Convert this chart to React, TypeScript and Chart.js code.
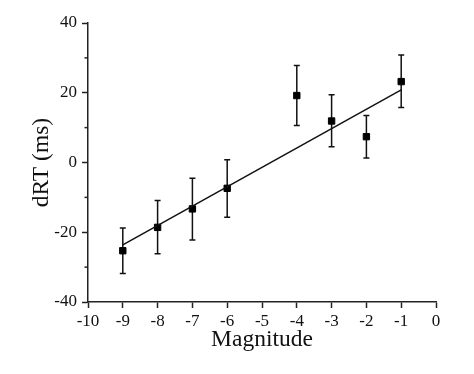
import React, { useEffect, useRef } from "react";
import { Chart, registerables } from "chart.js";

Chart.register(...registerables);

const magnitudes = [-9, -8, -7, -6, -4, -3, -2, -1];
const dRT = [-25.3, -18.6, -13.3, -7.4, 19.2, 11.9, 7.4, 23.2];
const errUpper = [-18.8, -10.9, -4.5, 0.8, 27.8, 19.4, 13.5, 30.8];
const errLower = [-31.8, -26.2, -22.2, -15.7, 10.6, 4.5, 1.3, 15.8];
const fitX = [-9, -1];
const fitY = [-23.6, 20.8];
const yMinorTicks = [-30, -10, 10, 30];

const FONT = "'Liberation Serif', 'Times New Roman', serif";

const errorBarPlugin = {
  id: "errorBars",
  beforeDatasetsDraw(chart: any) {
    const { ctx, scales } = chart;
    const xs = scales.x;
    const ys = scales.y;
    ctx.save();
    ctx.strokeStyle = "#111";
    ctx.lineWidth = 1.5;
    magnitudes.forEach((m, i) => {
      const px = xs.getPixelForValue(m);
      const top = ys.getPixelForValue(errUpper[i]);
      const bot = ys.getPixelForValue(errLower[i]);
      ctx.beginPath();
      ctx.moveTo(px, top);
      ctx.lineTo(px, bot);
      ctx.moveTo(px - 3, top);
      ctx.lineTo(px + 3, top);
      ctx.moveTo(px - 3, bot);
      ctx.lineTo(px + 3, bot);
      ctx.stroke();
    });
    ctx.restore();
  },
  afterDraw(chart: any) {
    const { ctx, scales } = chart;
    const ys = scales.y;
    ctx.save();
    ctx.strokeStyle = "#222";
    ctx.lineWidth = 1.5;
    yMinorTicks.forEach((v) => {
      const py = ys.getPixelForValue(v);
      ctx.beginPath();
      ctx.moveTo(ys.right - 3.5, py);
      ctx.lineTo(ys.right, py);
      ctx.stroke();
    });
    ctx.restore();
  },
};

export default function App() {
  const ref = useRef<HTMLCanvasElement>(null);
  useEffect(() => {
    if (!ref.current) return;
    const chart = new Chart(ref.current, {
      type: "scatter",
      data: {
        datasets: [
          {
            type: "line",
            data: fitX.map((x, i) => ({ x, y: fitY[i] })),
            borderColor: "#111",
            borderWidth: 1.5,
            pointRadius: 0,
            fill: false,
          } as any,
          {
            data: magnitudes.map((x, i) => ({ x, y: dRT[i] })),
            pointStyle: "rect",
            pointRadius: 4.5,
            backgroundColor: "#000",
            borderColor: "#000",
            borderWidth: 1,
          },
        ],
      },
      options: {
        responsive: false,
        animation: false,
        layout: { padding: { top: 23, right: 38, left: 0, bottom: 0 } },
        plugins: { legend: { display: false }, tooltip: { enabled: false } },
        scales: {
          x: {
            type: "linear",
            min: -10,
            max: 0,
            afterFit: (s: any) => {
              s.height = 72;
            },
            ticks: {
              stepSize: 1,
              color: "#111",
              padding: 3,
              maxRotation: 0,
              autoSkip: false,
              font: { family: FONT, size: 17 },
            },
            grid: {
              drawOnChartArea: false,
              drawTicks: true,
              tickLength: 6,
              tickWidth: 1.5,
              tickColor: "#222",
            },
            border: { display: true, color: "#222", width: 1.5 },
            title: {
              display: true,
              text: "Magnitude",
              color: "#111",
              font: { family: FONT, size: 23.5 },
              padding: { top: 0, bottom: 20 },
            },
          },
          y: {
            type: "linear",
            min: -40,
            max: 40,
            afterFit: (s: any) => {
              s.width = 88;
            },
            ticks: {
              stepSize: 10,
              color: "#111",
              padding: 5,
              autoSkip: false,
              font: { family: FONT, size: 17 },
              callback: (v: any) => (Number(v) % 20 === 0 ? String(v) : ""),
            },
            grid: {
              drawOnChartArea: false,
              drawTicks: true,
              tickLength: 6,
              tickWidth: 1.5,
              tickColor: (c: any) =>
                c.tick && Number(c.tick.value) % 20 === 0 ? "#222" : "rgba(0,0,0,0)",
            },
            border: { display: true, color: "#222", width: 1.5 },
            title: {
              display: true,
              text: "dRT (ms)",
              color: "#111",
              font: { family: FONT, size: 23.5 },
              padding: { top: 28, bottom: 0 },
            },
          },
        },
      },
      plugins: [errorBarPlugin],
    });
    return () => chart.destroy();
  }, []);
  return (
    <div style={{ position: "fixed", left: 0, top: 0, width: 474, height: 374, background: "#fff" }}>
      <canvas ref={ref} width={474} height={374} />
    </div>
  );
}
